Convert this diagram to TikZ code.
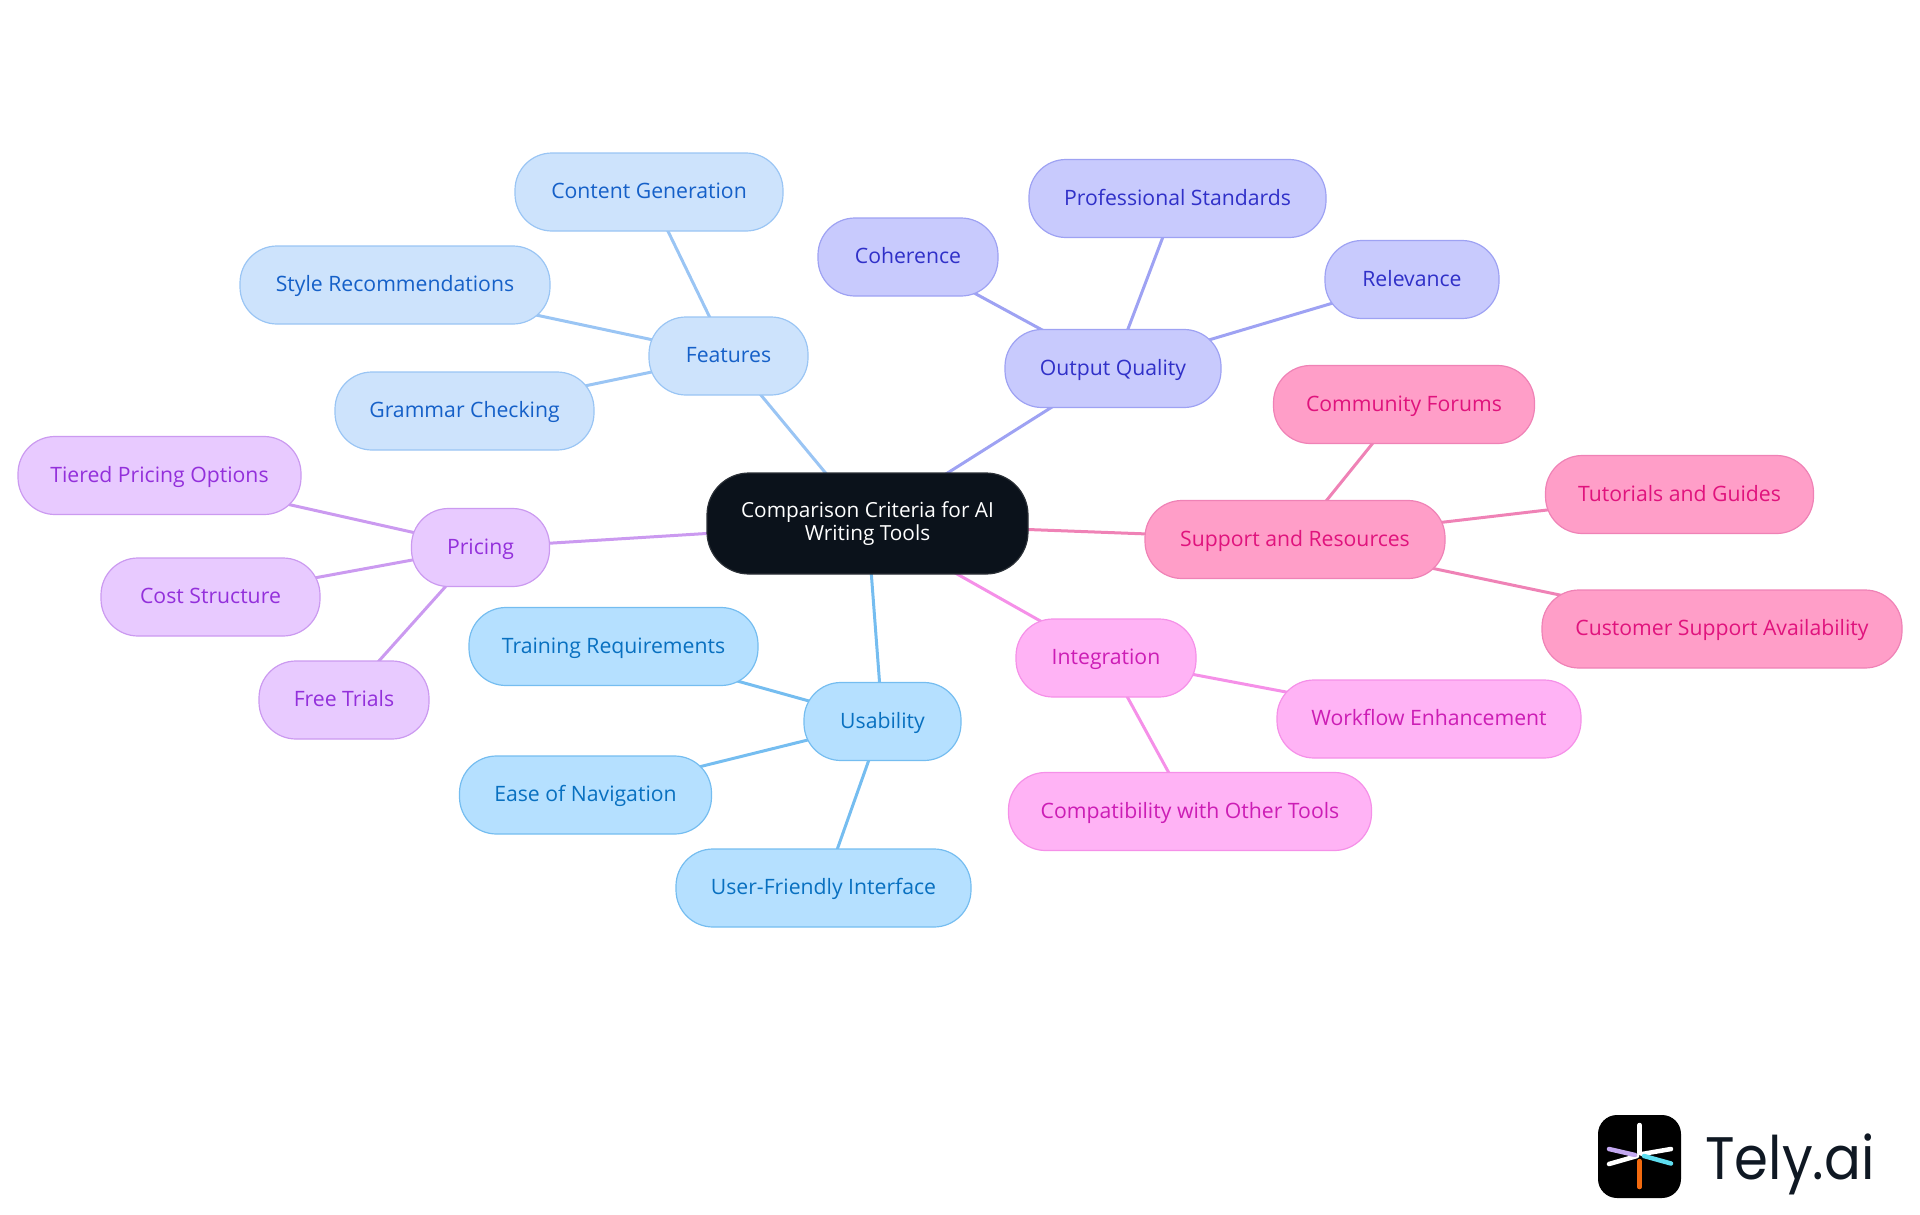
\documentclass[tikz,border=0pt]{standalone}
\usepackage{graphicx}
\usepackage{fontspec}
\setmainfont{Open Sans}
\newfontfamily\logofont{Poppins}
\usetikzlibrary{backgrounds}
\definecolor{fFill}{HTML}{CDE3FC}\definecolor{fLine}{HTML}{9AC5F4}\definecolor{fText}{HTML}{1560C8}
\definecolor{oFill}{HTML}{C8CAFD}\definecolor{oLine}{HTML}{9EA2F3}\definecolor{oText}{HTML}{3030C8}
\definecolor{sFill}{HTML}{FF9EC8}\definecolor{sLine}{HTML}{EF82B6}\definecolor{sText}{HTML}{E0137D}
\definecolor{iFill}{HTML}{FFB3F5}\definecolor{iLine}{HTML}{F590E8}\definecolor{iText}{HTML}{CC1DB5}
\definecolor{uFill}{HTML}{B5E0FF}\definecolor{uLine}{HTML}{75BDF0}\definecolor{uText}{HTML}{0870C0}
\definecolor{pFill}{HTML}{E8CAFF}\definecolor{pLine}{HTML}{CB9AF0}\definecolor{pText}{HTML}{9330DB}
\definecolor{rootFill}{HTML}{0B121B}\definecolor{rootLine}{HTML}{2A2F36}
\definecolor{logoDark}{HTML}{0F1823}\definecolor{rayOrange}{HTML}{F26A0F}
\definecolor{rayPurple}{HTML}{C3A8F0}\definecolor{rayCyan}{HTML}{5EDDEF}
\tikzset{
 mm/.style={rectangle,rounded corners=37pt,line width=1.2pt,minimum height=78pt,inner sep=0pt,
   font=\fontsize{21.2}{24}\selectfont,text height=14.5pt,text depth=1.5pt},
 nodeF/.style={mm,fill=fFill,draw=fLine,text=fText},
 nodeO/.style={mm,fill=oFill,draw=oLine,text=oText},
 nodeS/.style={mm,fill=sFill,draw=sLine,text=sText},
 nodeI/.style={mm,fill=iFill,draw=iLine,text=iText},
 nodeU/.style={mm,fill=uFill,draw=uLine,text=uText},
 nodeP/.style={mm,fill=pFill,draw=pLine,text=pText},
 edgeF/.style={draw=fLine,line width=3pt},
 edgeO/.style={draw=oLine,line width=3pt},
 edgeS/.style={draw=sLine,line width=3pt},
 edgeI/.style={draw=iLine,line width=3pt},
 edgeU/.style={draw=uLine,line width=3pt},
 edgeP/.style={draw=pLine,line width=3pt},
 ray/.style={line width=4.5pt,line cap=round},
}
\begin{document}
\begin{tikzpicture}[x=1pt,y=-1pt]
\useasboundingbox (0,0) rectangle (1920,1215);
\node[rectangle,rounded corners=42pt,fill=rootFill,draw=rootLine,line width=1.2pt,minimum width=321pt,minimum height=101pt,inner sep=0pt,text=white,align=center,font=\fontsize{20.8}{23.5}\selectfont] (root) at (867.5,523.5) {\raisebox{-2.5pt}{Comparison Criteria for AI}\\\raisebox{-2pt}{Writing Tools}};
% Features
\node[nodeF,minimum width=159pt] (feat) at (728.5,356) {Features};
\node[nodeF,minimum width=268pt] (cont) at (649,192) {Content Generation};
\node[nodeF,minimum width=310pt] (styl) at (395,285) {Style Recommendations};
\node[nodeF,minimum width=259pt] (gram) at (464.5,411) {Grammar Checking};
% Output
\node[nodeO,minimum width=216pt] (outq) at (1113,368.5) {Output Quality};
\node[nodeO,minimum width=297pt] (prof) at (1177.5,198.5) {Professional Standards};
\node[nodeO,minimum width=180pt] (cohe) at (908,257) {Coherence};
\node[nodeO,minimum width=174pt] (rele) at (1412,279.5) {Relevance};
% Support
\node[nodeS,minimum width=300pt] (supp) at (1295,539.5) {Support and Resources};
\node[nodeS,minimum width=261pt] (comm) at (1404,404.5) {Community Forums};
\node[nodeS,minimum width=268pt] (tuto) at (1679.5,494.5) {Tutorials and Guides};
\node[nodeS,minimum width=360pt] (cust) at (1722,629) {Customer Support Availability};
% Integration
\node[nodeI,minimum width=180pt] (inte) at (1106,658) {Integration};
\node[nodeI,minimum width=304pt] (work) at (1429,719) {Workflow Enhancement};
\node[nodeI,minimum width=363pt] (comp) at (1190,811.5) {Compatibility with Other Tools};
% Usability
\node[nodeU,minimum width=157pt] (usab) at (882.5,721.5) {Usability};
\node[nodeU,minimum width=289pt] (trai) at (613.5,646.5) {Training Requirements};
\node[nodeU,minimum width=252pt] (ease) at (585.5,795) {Ease of Navigation};
\node[nodeU,minimum width=295pt] (user) at (823.5,888) {User-Friendly Interface};
% Pricing
\node[nodeP,minimum width=138pt] (pric) at (480.5,547.5) {Pricing};
\node[nodeP,minimum width=283pt] (tier) at (159.5,475.5) {Tiered Pricing Options};
\node[nodeP,minimum width=219pt] (cost) at (210.5,597) {Cost Structure};
\node[nodeP,minimum width=170pt] (free) at (344,700) {Free Trials};
\begin{scope}[on background layer]
\draw[edgeF] (root.center)--(feat.center) (feat.center)--(cont.center) (feat.center)--(styl.center) (feat.center)--(gram.center);
\draw[edgeO] (root.center)--(outq.center) (outq.center)--(prof.center) (outq.center)--(cohe.center) (outq.center)--(rele.center);
\draw[edgeS] (root.center)--(supp.center) (supp.center)--(comm.center) (supp.center)--(tuto.center) (supp.center)--(cust.center);
\draw[edgeI] (root.center)--(inte.center) (inte.center)--(work.center) (inte.center)--(comp.center);
\draw[edgeU] (root.center)--(usab.center) (usab.center)--(trai.center) (usab.center)--(ease.center) (usab.center)--(user.center);
\draw[edgeP] (root.center)--(pric.center) (pric.center)--(tier.center) (pric.center)--(cost.center) (pric.center)--(free.center);
\end{scope}
% Logo
\fill[black,rounded corners=19pt] (1598,1115) rectangle (1681,1198);
\draw[ray,white] (1639.5,1153)--(1639.5,1125);
\draw[ray,white] (1642,1154)--(1671,1149);
\draw[ray,white] (1637,1156)--(1609,1164);
\draw[ray,rayPurple] (1609,1149)--(1635,1155);
\draw[ray,rayCyan] (1644,1156)--(1671,1163.5);
\draw[ray,rayOrange] (1639.5,1161)--(1639.5,1187);
\node[anchor=base west,inner sep=0pt,text=logoDark,font=\logofont\fontsize{60}{60}\selectfont] (logo) at (1705,1179) {\scalebox{0.91}[1]{Tely.ai}};
\end{tikzpicture}
\end{document}
